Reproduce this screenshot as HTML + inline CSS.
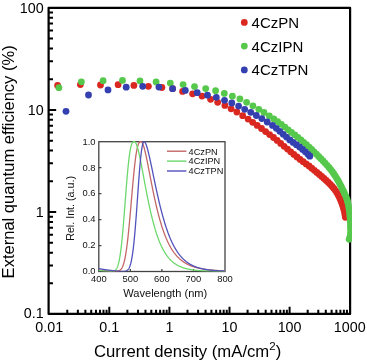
<!DOCTYPE html>
<html><head><meta charset="utf-8"><title>EQE vs current density</title>
<style>html,body{margin:0;padding:0;background:#fff;width:367px;height:360px;overflow:hidden}svg{display:block}</style>
</head><body>
<svg width="367" height="360" viewBox="0 0 367 360">
<defs><clipPath id="pc"><rect x="0" y="0" width="351.8" height="360"/></clipPath><clipPath id="ic"><rect x="98.8" y="140.7" width="126.2" height="130.8"/></clipPath></defs>
<style>
text{font-family:"Liberation Sans",Arial,Helvetica,sans-serif;fill:#000}
.tl{font-size:14.3px}
.al{font-size:16.7px}
.lg{font-size:15px}
.il{font-size:9.4px;fill:#111}
.ia{font-size:11.1px;fill:#111}
.ig{font-size:9.2px;fill:#111}
</style>
<rect width="367" height="360" fill="#fff"/>
<path d="M48.6,313.9 L48.6,7.8 L350.1,7.8 L350.1,313.9 Z" fill="none" stroke="#000" stroke-width="2.2" stroke-linejoin="round"/><path d="M48.6,283.36h4.4 M48.6,265.39h4.4 M48.6,252.63h4.4 M48.6,242.74h4.4 M48.6,234.65h4.4 M48.6,227.82h4.4 M48.6,221.89h4.4 M48.6,216.67h4.4 M48.6,212.00h7.6 M48.6,181.26h4.4 M48.6,163.29h4.4 M48.6,150.53h4.4 M48.6,140.64h4.4 M48.6,132.55h4.4 M48.6,125.72h4.4 M48.6,119.79h4.4 M48.6,114.57h4.4 M48.6,109.90h7.6 M48.6,79.16h4.4 M48.6,61.19h4.4 M48.6,48.43h4.4 M48.6,38.54h4.4 M48.6,30.45h4.4 M48.6,23.62h4.4 M48.6,17.69h4.4 M48.6,12.47h4.4 M67.29,313.9v-4.2 M77.87,313.9v-4.2 M85.38,313.9v-4.2 M91.21,313.9v-4.2 M95.97,313.9v-4.2 M99.99,313.9v-4.2 M103.48,313.9v-4.2 M106.55,313.9v-4.2 M109.30,313.9v-7.2 M127.39,313.9v-4.2 M137.97,313.9v-4.2 M145.48,313.9v-4.2 M151.31,313.9v-4.2 M156.07,313.9v-4.2 M160.09,313.9v-4.2 M163.58,313.9v-4.2 M166.65,313.9v-4.2 M169.40,313.9v-7.2 M187.49,313.9v-4.2 M198.07,313.9v-4.2 M205.58,313.9v-4.2 M211.41,313.9v-4.2 M216.17,313.9v-4.2 M220.19,313.9v-4.2 M223.68,313.9v-4.2 M226.75,313.9v-4.2 M229.50,313.9v-7.2 M247.59,313.9v-4.2 M258.17,313.9v-4.2 M265.68,313.9v-4.2 M271.51,313.9v-4.2 M276.27,313.9v-4.2 M280.29,313.9v-4.2 M283.78,313.9v-4.2 M286.85,313.9v-4.2 M289.60,313.9v-7.2 M307.69,313.9v-4.2 M318.27,313.9v-4.2 M325.78,313.9v-4.2 M331.61,313.9v-4.2 M336.37,313.9v-4.2 M340.39,313.9v-4.2 M343.88,313.9v-4.2 M346.95,313.9v-4.2" stroke="#000" stroke-width="2" fill="none"/><text x="43.6" y="12.8" text-anchor="end" class="tl">100</text><text x="43.6" y="114.9" text-anchor="end" class="tl">10</text><text x="43.6" y="217.0" text-anchor="end" class="tl">1</text><text x="43.6" y="318.1" text-anchor="end" class="tl">0.1</text><text x="49.2" y="332.2" text-anchor="middle" class="tl">0.01</text><text x="109.3" y="332.2" text-anchor="middle" class="tl">0.1</text><text x="169.4" y="332.2" text-anchor="middle" class="tl">1</text><text x="229.5" y="332.2" text-anchor="middle" class="tl">10</text><text x="289.6" y="332.2" text-anchor="middle" class="tl">100</text><text x="349.7" y="332.2" text-anchor="middle" class="tl">1000</text><text x="94" y="356.5" class="al">Current density (mA/cm<tspan dy="-6.5" font-size="11.5">2</tspan><tspan dy="6.5">)</tspan></text><text transform="translate(14.1,278.4) rotate(-90)" class="al" style="font-size:16.55px">External quantum efficiency (%)</text><g clip-path="url(#pc)"><circle cx="57.6" cy="85.5" r="3.4" fill="#da2820"/><circle cx="80.4" cy="84.6" r="3.4" fill="#da2820"/><circle cx="100.5" cy="85.0" r="3.4" fill="#da2820"/><circle cx="118.1" cy="84.7" r="3.4" fill="#da2820"/><circle cx="133.9" cy="85.4" r="3.4" fill="#da2820"/><circle cx="148.4" cy="86.3" r="3.4" fill="#da2820"/><circle cx="161.9" cy="87.5" r="3.4" fill="#da2820"/><circle cx="172.6" cy="88.7" r="3.4" fill="#da2820"/><circle cx="182.6" cy="91.4" r="3.4" fill="#da2820"/><circle cx="192.6" cy="93.8" r="3.4" fill="#da2820"/><circle cx="202.0" cy="96.1" r="3.4" fill="#da2820"/><circle cx="210.6" cy="99.3" r="3.4" fill="#da2820"/><circle cx="217.7" cy="102.3" r="3.4" fill="#da2820"/><circle cx="224.9" cy="105.4" r="3.4" fill="#da2820"/><circle cx="231.1" cy="108.8" r="3.4" fill="#da2820"/><circle cx="236.8" cy="112.0" r="3.4" fill="#da2820"/><circle cx="242.7" cy="115.7" r="3.4" fill="#da2820"/><circle cx="248.1" cy="119.1" r="3.4" fill="#da2820"/><circle cx="252.7" cy="122.3" r="3.4" fill="#da2820"/><circle cx="257.2" cy="125.4" r="3.4" fill="#da2820"/><circle cx="261.5" cy="128.5" r="3.4" fill="#da2820"/><circle cx="265.6" cy="131.6" r="3.4" fill="#da2820"/><circle cx="269.6" cy="134.6" r="3.4" fill="#da2820"/><circle cx="273.5" cy="137.5" r="3.4" fill="#da2820"/><circle cx="277.2" cy="140.4" r="3.4" fill="#da2820"/><circle cx="280.7" cy="143.4" r="3.4" fill="#da2820"/><circle cx="284.1" cy="146.3" r="3.4" fill="#da2820"/><circle cx="287.5" cy="149.1" r="3.4" fill="#da2820"/><circle cx="290.7" cy="151.8" r="3.4" fill="#da2820"/><circle cx="293.9" cy="154.4" r="3.4" fill="#da2820"/><circle cx="297.0" cy="157.0" r="3.4" fill="#da2820"/><circle cx="300.1" cy="159.4" r="3.4" fill="#da2820"/><circle cx="303.1" cy="161.7" r="3.4" fill="#da2820"/><circle cx="306.1" cy="163.9" r="3.4" fill="#da2820"/><circle cx="309.0" cy="166.0" r="3.4" fill="#da2820"/><circle cx="311.7" cy="168.2" r="3.4" fill="#da2820"/><circle cx="314.3" cy="170.3" r="3.4" fill="#da2820"/><circle cx="316.9" cy="172.4" r="3.4" fill="#da2820"/><circle cx="319.3" cy="174.5" r="3.4" fill="#da2820"/><circle cx="321.7" cy="176.5" r="3.4" fill="#da2820"/><circle cx="324.0" cy="178.5" r="3.4" fill="#da2820"/><circle cx="326.2" cy="180.5" r="3.4" fill="#da2820"/><circle cx="328.3" cy="182.5" r="3.4" fill="#da2820"/><circle cx="330.3" cy="184.5" r="3.4" fill="#da2820"/><circle cx="332.2" cy="186.5" r="3.4" fill="#da2820"/><circle cx="333.9" cy="188.5" r="3.4" fill="#da2820"/><circle cx="335.5" cy="190.6" r="3.4" fill="#da2820"/><circle cx="336.9" cy="192.7" r="3.4" fill="#da2820"/><circle cx="338.2" cy="194.9" r="3.4" fill="#da2820"/><circle cx="339.3" cy="197.1" r="3.4" fill="#da2820"/><circle cx="340.3" cy="199.3" r="3.4" fill="#da2820"/><circle cx="341.2" cy="201.5" r="3.4" fill="#da2820"/><circle cx="342.1" cy="203.8" r="3.4" fill="#da2820"/><circle cx="342.8" cy="206.0" r="3.4" fill="#da2820"/><circle cx="343.5" cy="208.3" r="3.4" fill="#da2820"/><circle cx="344.2" cy="210.6" r="3.4" fill="#da2820"/><circle cx="344.7" cy="213.0" r="3.4" fill="#da2820"/><circle cx="345.1" cy="215.3" r="3.4" fill="#da2820"/><circle cx="345.4" cy="217.3" r="3.4" fill="#da2820"/><circle cx="58.9" cy="87.7" r="3.4" fill="#56c84c"/><circle cx="81.4" cy="81.8" r="3.4" fill="#56c84c"/><circle cx="103.1" cy="80.7" r="3.4" fill="#56c84c"/><circle cx="122.5" cy="80.4" r="3.4" fill="#56c84c"/><circle cx="140.0" cy="80.9" r="3.4" fill="#56c84c"/><circle cx="156.1" cy="82.0" r="3.4" fill="#56c84c"/><circle cx="170.3" cy="83.1" r="3.4" fill="#56c84c"/><circle cx="183.1" cy="84.6" r="3.4" fill="#56c84c"/><circle cx="194.5" cy="86.6" r="3.4" fill="#56c84c"/><circle cx="205.7" cy="88.6" r="3.4" fill="#56c84c"/><circle cx="215.6" cy="90.7" r="3.4" fill="#56c84c"/><circle cx="224.3" cy="93.4" r="3.4" fill="#56c84c"/><circle cx="232.4" cy="96.2" r="3.4" fill="#56c84c"/><circle cx="239.9" cy="98.9" r="3.4" fill="#56c84c"/><circle cx="246.6" cy="102.3" r="3.4" fill="#56c84c"/><circle cx="252.9" cy="105.8" r="3.4" fill="#56c84c"/><circle cx="258.8" cy="109.3" r="3.4" fill="#56c84c"/><circle cx="264.0" cy="112.5" r="3.4" fill="#56c84c"/><circle cx="269.3" cy="115.9" r="3.4" fill="#56c84c"/><circle cx="273.8" cy="118.9" r="3.4" fill="#56c84c"/><circle cx="277.7" cy="121.6" r="3.4" fill="#56c84c"/><circle cx="281.4" cy="124.3" r="3.4" fill="#56c84c"/><circle cx="284.9" cy="127.1" r="3.4" fill="#56c84c"/><circle cx="288.2" cy="129.8" r="3.4" fill="#56c84c"/><circle cx="291.5" cy="132.4" r="3.4" fill="#56c84c"/><circle cx="294.8" cy="134.9" r="3.4" fill="#56c84c"/><circle cx="297.9" cy="137.4" r="3.4" fill="#56c84c"/><circle cx="300.9" cy="139.8" r="3.4" fill="#56c84c"/><circle cx="303.7" cy="142.3" r="3.4" fill="#56c84c"/><circle cx="306.5" cy="144.7" r="3.4" fill="#56c84c"/><circle cx="309.1" cy="147.1" r="3.4" fill="#56c84c"/><circle cx="311.7" cy="149.5" r="3.4" fill="#56c84c"/><circle cx="314.1" cy="151.9" r="3.4" fill="#56c84c"/><circle cx="316.5" cy="154.2" r="3.4" fill="#56c84c"/><circle cx="318.7" cy="156.5" r="3.4" fill="#56c84c"/><circle cx="320.9" cy="158.7" r="3.4" fill="#56c84c"/><circle cx="323.1" cy="160.9" r="3.4" fill="#56c84c"/><circle cx="325.1" cy="163.1" r="3.4" fill="#56c84c"/><circle cx="327.1" cy="165.3" r="3.4" fill="#56c84c"/><circle cx="329.0" cy="167.4" r="3.4" fill="#56c84c"/><circle cx="330.7" cy="169.6" r="3.4" fill="#56c84c"/><circle cx="332.4" cy="171.7" r="3.4" fill="#56c84c"/><circle cx="333.9" cy="173.9" r="3.4" fill="#56c84c"/><circle cx="335.4" cy="176.1" r="3.4" fill="#56c84c"/><circle cx="336.7" cy="178.3" r="3.4" fill="#56c84c"/><circle cx="338.0" cy="180.5" r="3.4" fill="#56c84c"/><circle cx="339.2" cy="182.6" r="3.4" fill="#56c84c"/><circle cx="340.3" cy="184.8" r="3.4" fill="#56c84c"/><circle cx="341.4" cy="186.9" r="3.4" fill="#56c84c"/><circle cx="342.4" cy="189.1" r="3.4" fill="#56c84c"/><circle cx="343.5" cy="191.2" r="3.4" fill="#56c84c"/><circle cx="344.5" cy="193.4" r="3.4" fill="#56c84c"/><circle cx="345.5" cy="195.6" r="3.4" fill="#56c84c"/><circle cx="346.4" cy="197.8" r="3.4" fill="#56c84c"/><circle cx="347.2" cy="200.1" r="3.4" fill="#56c84c"/><circle cx="347.8" cy="202.4" r="3.4" fill="#56c84c"/><circle cx="348.4" cy="204.8" r="3.4" fill="#56c84c"/><circle cx="348.8" cy="207.1" r="3.4" fill="#56c84c"/><circle cx="349.2" cy="209.5" r="3.4" fill="#56c84c"/><circle cx="349.6" cy="211.9" r="3.4" fill="#56c84c"/><circle cx="349.8" cy="214.3" r="3.4" fill="#56c84c"/><circle cx="350.0" cy="216.6" r="3.4" fill="#56c84c"/><circle cx="350.2" cy="219.0" r="3.4" fill="#56c84c"/><circle cx="350.3" cy="221.4" r="3.4" fill="#56c84c"/><circle cx="350.5" cy="223.8" r="3.4" fill="#56c84c"/><circle cx="350.5" cy="226.2" r="3.4" fill="#56c84c"/><circle cx="350.6" cy="228.6" r="3.4" fill="#56c84c"/><circle cx="350.7" cy="231.0" r="3.4" fill="#56c84c"/><circle cx="350.6" cy="233.4" r="3.4" fill="#56c84c"/><circle cx="350.3" cy="235.8" r="3.4" fill="#56c84c"/><circle cx="349.7" cy="238.1" r="3.4" fill="#56c84c"/><circle cx="349.2" cy="239.3" r="3.4" fill="#56c84c"/><circle cx="66.0" cy="111.3" r="3.4" fill="#3440b0"/><circle cx="88.5" cy="95.0" r="3.4" fill="#3440b0"/><circle cx="108.0" cy="89.9" r="3.4" fill="#3440b0"/><circle cx="126.2" cy="87.2" r="3.4" fill="#3440b0"/><circle cx="142.7" cy="86.3" r="3.4" fill="#3440b0"/><circle cx="158.9" cy="87.1" r="3.4" fill="#3440b0"/><circle cx="172.6" cy="88.7" r="3.4" fill="#3440b0"/><circle cx="185.3" cy="90.4" r="3.4" fill="#3440b0"/><circle cx="197.2" cy="92.7" r="3.4" fill="#3440b0"/><circle cx="207.5" cy="95.2" r="3.4" fill="#3440b0"/><circle cx="216.3" cy="97.3" r="3.4" fill="#3440b0"/><circle cx="224.5" cy="100.3" r="3.4" fill="#3440b0"/><circle cx="231.8" cy="103.0" r="3.4" fill="#3440b0"/><circle cx="238.6" cy="106.1" r="3.4" fill="#3440b0"/><circle cx="244.7" cy="109.3" r="3.4" fill="#3440b0"/><circle cx="250.8" cy="112.3" r="3.4" fill="#3440b0"/><circle cx="256.3" cy="115.5" r="3.4" fill="#3440b0"/><circle cx="261.8" cy="118.6" r="3.4" fill="#3440b0"/><circle cx="267.2" cy="122.0" r="3.4" fill="#3440b0"/><circle cx="272.5" cy="125.4" r="3.4" fill="#3440b0"/><circle cx="276.3" cy="128.3" r="3.4" fill="#3440b0"/><circle cx="279.8" cy="131.3" r="3.4" fill="#3440b0"/><circle cx="283.2" cy="134.3" r="3.4" fill="#3440b0"/><circle cx="286.5" cy="137.1" r="3.4" fill="#3440b0"/><circle cx="289.8" cy="139.9" r="3.4" fill="#3440b0"/><circle cx="293.1" cy="142.4" r="3.4" fill="#3440b0"/><circle cx="296.4" cy="144.7" r="3.4" fill="#3440b0"/><circle cx="299.6" cy="147.0" r="3.4" fill="#3440b0"/><circle cx="302.6" cy="149.4" r="3.4" fill="#3440b0"/><circle cx="305.4" cy="151.8" r="3.4" fill="#3440b0"/><circle cx="308.0" cy="154.3" r="3.4" fill="#3440b0"/><circle cx="309.8" cy="156.2" r="3.4" fill="#3440b0"/></g><circle cx="244.3" cy="22.4" r="3.4" fill="#da2820"/><text x="251.6" y="28.0" class="lg">4CzPN</text><circle cx="244.3" cy="46.1" r="3.4" fill="#56c84c"/><text x="251.6" y="51.5" class="lg">4CzIPN</text><circle cx="244.3" cy="69.9" r="3.4" fill="#3440b0"/><text x="251.6" y="75.0" class="lg">4CzTPN</text><rect x="98.8" y="141.7" width="126.2" height="129.8" fill="#fff" stroke="#444" stroke-width="1.3"/><path d="M98.8,245.54h2.6 M98.8,219.58h2.6 M98.8,193.62h2.6 M98.8,167.66h2.6 M130.35,271.5v-2.6 M161.90,271.5v-2.6 M193.45,271.5v-2.6" stroke="#444" stroke-width="1.3" fill="none"/><text x="95.6" y="274.3" text-anchor="end" class="il">0.0</text><text x="95.6" y="248.3" text-anchor="end" class="il">0.2</text><text x="95.6" y="222.4" text-anchor="end" class="il">0.4</text><text x="95.6" y="196.4" text-anchor="end" class="il">0.6</text><text x="95.6" y="170.5" text-anchor="end" class="il">0.8</text><text x="95.6" y="144.5" text-anchor="end" class="il">1.0</text><text x="98.8" y="281.9" text-anchor="middle" class="il">400</text><text x="130.3" y="281.9" text-anchor="middle" class="il">500</text><text x="161.9" y="281.9" text-anchor="middle" class="il">600</text><text x="193.4" y="281.9" text-anchor="middle" class="il">700</text><text x="225.0" y="281.9" text-anchor="middle" class="il">800</text><text x="123.2" y="296.9" class="ia">Wavelength (nm)</text><text transform="translate(74.2,240.8) rotate(-90)" class="ia" style="font-size:10.7px">Rel. Int. (a.u.)</text><g clip-path="url(#ic)"><polyline points="98.80,270.20 98.96,270.22 99.12,270.23 99.27,270.24 99.43,270.26 99.59,270.27 99.75,270.28 99.90,270.30 100.06,270.31 100.22,270.33 100.38,270.34 100.54,270.35 100.69,270.37 100.85,270.38 101.01,270.39 101.17,270.40 101.32,270.42 101.48,270.43 101.64,270.44 101.80,270.46 101.95,270.47 102.11,270.48 102.27,270.50 102.43,270.51 102.59,270.52 102.74,270.53 102.90,270.55 103.06,270.56 103.22,270.57 103.37,270.58 103.53,270.60 103.69,270.61 103.85,270.62 104.01,270.63 104.16,270.64 104.32,270.66 104.48,270.67 104.64,270.68 104.79,270.69 104.95,270.70 105.11,270.72 105.27,270.73 105.43,270.74 105.58,270.75 105.74,270.76 105.90,270.77 106.06,270.79 106.21,270.80 106.37,270.81 106.53,270.82 106.69,270.83 106.85,270.84 107.00,270.85 107.16,270.86 107.32,270.88 107.48,270.89 107.63,270.90 107.79,270.91 107.95,270.92 108.11,270.93 108.27,270.94 108.42,270.95 108.58,270.96 108.74,270.97 108.90,270.98 109.05,270.99 109.21,271.00 109.37,271.01 109.53,271.02 109.68,271.03 109.84,271.04 110.00,271.05 110.16,271.06 110.32,271.07 110.47,271.08 110.63,271.09 110.79,271.10 110.95,271.11 111.10,271.12 111.26,271.13 111.42,271.13 111.58,271.14 111.74,271.15 111.89,271.16 112.05,271.17 112.21,271.18 112.37,271.18 112.52,271.19 112.68,271.20 112.84,271.21 113.00,271.21 113.16,271.22 113.31,271.23 113.47,271.24 113.63,271.24 113.79,271.25 113.94,271.25 114.10,271.26 114.26,271.26 114.42,271.27 114.58,271.27 114.73,271.27 114.89,271.28 115.05,271.28 115.21,271.28 115.36,271.28 115.52,271.28 115.68,271.28 115.84,271.27 115.99,271.27 116.15,271.27 116.31,271.26 116.47,271.25 116.63,271.24 116.78,271.23 116.94,271.21 117.10,271.20 117.26,271.18 117.41,271.16 117.57,271.14 117.73,271.11 117.89,271.08 118.05,271.04 118.20,271.01 118.36,270.97 118.52,270.92 118.68,270.87 118.83,270.81 118.99,270.75 119.15,270.68 119.31,270.61 119.47,270.52 119.62,270.44 119.78,270.34 119.94,270.23 120.10,270.12 120.25,269.99 120.41,269.86 120.57,269.71 120.73,269.56 120.88,269.39 121.04,269.20 121.20,269.01 121.36,268.80 121.52,268.57 121.67,268.33 121.83,268.08 121.99,267.80 122.15,267.51 122.30,267.20 122.46,266.87 122.62,266.52 122.78,266.15 122.94,265.76 123.09,265.34 123.25,264.90 123.41,264.43 123.57,263.94 123.72,263.43 123.88,262.88 124.04,262.31 124.20,261.71 124.36,261.08 124.51,260.42 124.67,259.72 124.83,259.00 124.99,258.24 125.14,257.45 125.30,256.63 125.46,255.77 125.62,254.88 125.78,253.96 125.93,252.99 126.09,252.00 126.25,250.96 126.41,249.89 126.56,248.79 126.72,247.65 126.88,246.47 127.04,245.26 127.19,244.01 127.35,242.72 127.51,241.40 127.67,240.05 127.83,238.66 127.98,237.24 128.14,235.78 128.30,234.29 128.46,232.78 128.61,231.23 128.77,229.65 128.93,228.04 129.09,226.41 129.25,224.76 129.40,223.07 129.56,221.37 129.72,219.64 129.88,217.90 130.03,216.14 130.19,214.36 130.35,212.57 130.51,210.76 130.67,208.94 130.82,207.12 130.98,205.29 131.14,203.45 131.30,201.61 131.45,199.77 131.61,197.93 131.77,196.10 131.93,194.27 132.09,192.45 132.24,190.63 132.40,188.83 132.56,187.04 132.72,185.27 132.87,183.52 133.03,181.78 133.19,180.07 133.35,178.38 133.50,176.72 133.66,175.08 133.82,173.47 133.98,171.89 134.14,170.35 134.29,168.83 134.45,167.35 134.61,165.91 134.77,164.51 134.92,163.14 135.08,161.82 135.24,160.53 135.40,159.29 135.56,158.08 135.71,156.93 135.87,155.81 136.03,154.74 136.19,153.72 136.34,152.73 136.50,151.80 136.66,150.91 136.82,150.07 136.98,149.27 137.13,148.51 137.29,147.80 137.45,147.14 137.61,146.52 137.76,145.94 137.92,145.40 138.08,144.91 138.24,144.46 138.40,144.05 138.55,143.68 138.71,143.34 138.87,143.04 139.03,142.78 139.18,142.55 139.34,142.35 139.50,142.19 139.66,142.05 139.81,141.94 139.97,141.85 140.13,141.79 140.29,141.74 140.45,141.72 140.60,141.70 140.76,141.70 140.92,141.70 141.08,141.72 141.23,141.76 141.39,141.84 141.55,141.95 141.71,142.09 141.87,142.26 142.02,142.47 142.18,142.71 142.34,142.98 142.50,143.28 142.65,143.61 142.81,143.96 142.97,144.35 143.13,144.76 143.29,145.19 143.44,145.65 143.60,146.13 143.76,146.63 143.92,147.15 144.07,147.69 144.23,148.25 144.39,148.83 144.55,149.43 144.71,150.04 144.86,150.67 145.02,151.31 145.18,151.97 145.34,152.63 145.49,153.32 145.65,154.01 145.81,154.71 145.97,155.43 146.12,156.15 146.28,156.89 146.44,157.63 146.60,158.38 146.76,159.14 146.91,159.90 147.07,160.67 147.23,161.45 147.39,162.23 147.54,163.02 147.70,163.81 147.86,164.61 148.02,165.41 148.18,166.21 148.33,167.01 148.49,167.82 148.65,168.63 148.81,169.45 148.96,170.26 149.12,171.07 149.28,171.89 149.44,172.71 149.60,173.52 149.75,174.34 149.91,175.16 150.07,175.97 150.23,176.79 150.38,177.60 150.54,178.42 150.70,179.23 150.86,180.04 151.02,180.85 151.17,181.65 151.33,182.46 151.49,183.26 151.65,184.06 151.80,184.85 151.96,185.65 152.12,186.44 152.28,187.23 152.44,188.01 152.59,188.79 152.75,189.57 152.91,190.34 153.07,191.11 153.22,191.88 153.38,192.64 153.54,193.40 153.70,194.15 153.85,194.90 154.01,195.64 154.17,196.38 154.33,197.12 154.49,197.85 154.64,198.58 154.80,199.30 154.96,200.02 155.12,200.73 155.27,201.44 155.43,202.14 155.59,202.84 155.75,203.54 155.91,204.22 156.06,204.91 156.22,205.59 156.38,206.26 156.54,206.93 156.69,207.59 156.85,208.25 157.01,208.90 157.17,209.55 157.33,210.19 157.48,210.83 157.64,211.46 157.80,212.09 157.96,212.71 158.11,213.33 158.27,213.94 158.43,214.54 158.59,215.14 158.75,215.74 158.90,216.33 159.06,216.92 159.22,217.50 159.38,218.07 159.53,218.64 159.69,219.21 159.85,219.77 160.01,220.32 160.16,220.87 160.32,221.41 160.48,221.95 160.64,222.49 160.80,223.02 160.95,223.54 161.11,224.06 161.27,224.57 161.43,225.08 161.58,225.59 161.74,226.09 161.90,226.58 162.06,227.07 162.22,227.56 162.37,228.04 162.53,228.52 162.69,228.99 162.85,229.45 163.00,229.91 163.16,230.37 163.32,230.82 163.48,231.27 163.64,231.72 163.79,232.15 163.95,232.59 164.11,233.02 164.27,233.44 164.42,233.87 164.58,234.28 164.74,234.70 164.90,235.10 165.06,235.51 165.21,235.91 165.37,236.30 165.53,236.69 165.69,237.08 165.84,237.47 166.00,237.85 166.16,238.22 166.32,238.59 166.47,238.96 166.63,239.32 166.79,239.68 166.95,240.04 167.11,240.39 167.26,240.74 167.42,241.08 167.58,241.42 167.74,241.76 167.89,242.09 168.05,242.42 168.21,242.75 168.37,243.07 168.53,243.39 168.68,243.71 168.84,244.02 169.00,244.33 169.16,244.63 169.31,244.94 169.47,245.23 169.63,245.53 169.79,245.82 169.95,246.11 170.10,246.40 170.26,246.68 170.42,246.96 170.58,247.24 170.73,247.51 170.89,247.78 171.05,248.05 171.21,248.31 171.37,248.57 171.52,248.83 171.68,249.09 171.84,249.34 172.00,249.59 172.15,249.84 172.31,250.08 172.47,250.32 172.63,250.56 172.78,250.80 172.94,251.03 173.10,251.26 173.26,251.49 173.42,251.72 173.57,251.94 173.73,252.16 173.89,252.38 174.05,252.59 174.20,252.81 174.36,253.02 174.52,253.23 174.68,253.43 174.84,253.64 174.99,253.84 175.15,254.04 175.31,254.23 175.47,254.43 175.62,254.62 175.78,254.81 175.94,255.00 176.10,255.18 176.26,255.37 176.41,255.55 176.57,255.73 176.73,255.91 176.89,256.08 177.04,256.26 177.20,256.43 177.36,256.60 177.52,256.77 177.68,256.93 177.83,257.09 177.99,257.26 178.15,257.42 178.31,257.58 178.46,257.73 178.62,257.89 178.78,258.04 178.94,258.19 179.09,258.34 179.25,258.49 179.41,258.63 179.57,258.78 179.73,258.92 179.88,259.06 180.04,259.20 180.20,259.34 180.36,259.47 180.51,259.61 180.67,259.74 180.83,259.87 180.99,260.00 181.15,260.13 181.30,260.26 181.46,260.39 181.62,260.51 181.78,260.63 181.93,260.75 182.09,260.87 182.25,260.99 182.41,261.11 182.57,261.23 182.72,261.34 182.88,261.45 183.04,261.56 183.20,261.68 183.35,261.78 183.51,261.89 183.67,262.00 183.83,262.11 183.99,262.21 184.14,262.31 184.30,262.41 184.46,262.52 184.62,262.62 184.77,262.71 184.93,262.81 185.09,262.91 185.25,263.00 185.40,263.10 185.56,263.19 185.72,263.28 185.88,263.37 186.04,263.46 186.19,263.55 186.35,263.64 186.51,263.73 186.67,263.81 186.82,263.90 186.98,263.98 187.14,264.06 187.30,264.15 187.46,264.23 187.61,264.31 187.77,264.39 187.93,264.46 188.09,264.54 188.24,264.62 188.40,264.69 188.56,264.77 188.72,264.84 188.88,264.91 189.03,264.99 189.19,265.06 189.35,265.13 189.51,265.20 189.66,265.27 189.82,265.33 189.98,265.40 190.14,265.47 190.30,265.53 190.45,265.60 190.61,265.66 190.77,265.73 190.93,265.79 191.08,265.85 191.24,265.91 191.40,265.97 191.56,266.03 191.71,266.09 191.87,266.15 192.03,266.21 192.19,266.27 192.35,266.33 192.50,266.38 192.66,266.44 192.82,266.49 192.98,266.55 193.13,266.60 193.29,266.65 193.45,266.70 193.61,266.76 193.77,266.81 193.92,266.86 194.08,266.91 194.24,266.96 194.40,267.01 194.55,267.05 194.71,267.10 194.87,267.15 195.03,267.20 195.19,267.24 195.34,267.29 195.50,267.33 195.66,267.38 195.82,267.42 195.97,267.47 196.13,267.51 196.29,267.55 196.45,267.59 196.61,267.64 196.76,267.68 196.92,267.72 197.08,267.76 197.24,267.80 197.39,267.84 197.55,267.88 197.71,267.91 197.87,267.95 198.02,267.99 198.18,268.03 198.34,268.06 198.50,268.10 198.66,268.14 198.81,268.17 198.97,268.21 199.13,268.24 199.29,268.28 199.44,268.31 199.60,268.34 199.76,268.38 199.92,268.41 200.08,268.44 200.23,268.48 200.39,268.51 200.55,268.54 200.71,268.57 200.86,268.60 201.02,268.63 201.18,268.66 201.34,268.69 201.50,268.72 201.65,268.75 201.81,268.78 201.97,268.81 202.13,268.84 202.28,268.86 202.44,268.89 202.60,268.92 202.76,268.94 202.91,268.97 203.07,269.00 203.23,269.02 203.39,269.05 203.55,269.07 203.70,269.10 203.86,269.12 204.02,269.15 204.18,269.17 204.33,269.20 204.49,269.22 204.65,269.25 204.81,269.27 204.97,269.29 205.12,269.31 205.28,269.34 205.44,269.36 205.60,269.38 205.75,269.40 205.91,269.42 206.07,269.45 206.23,269.47 206.39,269.49 206.54,269.51 206.70,269.53 206.86,269.55 207.02,269.57 207.17,269.59 207.33,269.61 207.49,269.63 207.65,269.65 207.81,269.67 207.96,269.69 208.12,269.70 208.28,269.72 208.44,269.74 208.59,269.76 208.75,269.78 208.91,269.79 209.07,269.81 209.22,269.83 209.38,269.84 209.54,269.86 209.70,269.88 209.86,269.89 210.01,269.91 210.17,269.93 210.33,269.94 210.49,269.96 210.64,269.97 210.80,269.99 210.96,270.00 211.12,270.02 211.28,270.03 211.43,270.05 211.59,270.06 211.75,270.08 211.91,270.09 212.06,270.11 212.22,270.12 212.38,270.13 212.54,270.15 212.70,270.16 212.85,270.18 213.01,270.19 213.17,270.20 213.33,270.21 213.48,270.23 213.64,270.24 213.80,270.25 213.96,270.26 214.12,270.28 214.27,270.29 214.43,270.30 214.59,270.31 214.75,270.32 214.90,270.34 215.06,270.35 215.22,270.36 215.38,270.37 215.53,270.38 215.69,270.39 215.85,270.40 216.01,270.41 216.17,270.43 216.32,270.44 216.48,270.45 216.64,270.46 216.80,270.47 216.95,270.48 217.11,270.49 217.27,270.50 217.43,270.51 217.59,270.52 217.74,270.53 217.90,270.54 218.06,270.55 218.22,270.55 218.37,270.56 218.53,270.57 218.69,270.58 218.85,270.59 219.01,270.60 219.16,270.61 219.32,270.62 219.48,270.63 219.64,270.63 219.79,270.64 219.95,270.65 220.11,270.66 220.27,270.67 220.43,270.68 220.58,270.68 220.74,270.69 220.90,270.70 221.06,270.71 221.21,270.71 221.37,270.72 221.53,270.73 221.69,270.74 221.84,270.74 222.00,270.75 222.16,270.76 222.32,270.77 222.48,270.77 222.63,270.78 222.79,270.79 222.95,270.79 223.11,270.80 223.26,270.81 223.42,270.81 223.58,270.82 223.74,270.83 223.90,270.83 224.05,270.84 224.21,270.85 224.37,270.85 224.53,270.86 224.68,270.86 224.84,270.87 225.00,270.88" fill="none" stroke="#c46666" stroke-width="1.3" stroke-linejoin="round"/><polyline points="98.80,270.59 98.96,270.60 99.12,270.61 99.27,270.63 99.43,270.64 99.59,270.65 99.75,270.66 99.90,270.67 100.06,270.68 100.22,270.69 100.38,270.70 100.54,270.71 100.69,270.72 100.85,270.73 101.01,270.75 101.17,270.76 101.32,270.77 101.48,270.78 101.64,270.79 101.80,270.80 101.95,270.81 102.11,270.82 102.27,270.83 102.43,270.84 102.59,270.85 102.74,270.86 102.90,270.87 103.06,270.88 103.22,270.89 103.37,270.90 103.53,270.91 103.69,270.92 103.85,270.93 104.01,270.94 104.16,270.95 104.32,270.96 104.48,270.97 104.64,270.98 104.79,270.99 104.95,271.00 105.11,271.01 105.27,271.01 105.43,271.02 105.58,271.03 105.74,271.04 105.90,271.05 106.06,271.06 106.21,271.07 106.37,271.08 106.53,271.09 106.69,271.09 106.85,271.10 107.00,271.11 107.16,271.12 107.32,271.13 107.48,271.14 107.63,271.14 107.79,271.15 107.95,271.16 108.11,271.17 108.27,271.18 108.42,271.18 108.58,271.19 108.74,271.20 108.90,271.21 109.05,271.21 109.21,271.22 109.37,271.23 109.53,271.23 109.68,271.24 109.84,271.24 110.00,271.25 110.16,271.25 110.32,271.26 110.47,271.26 110.63,271.26 110.79,271.26 110.95,271.27 111.10,271.27 111.26,271.27 111.42,271.26 111.58,271.26 111.74,271.26 111.89,271.25 112.05,271.24 112.21,271.23 112.37,271.22 112.52,271.21 112.68,271.19 112.84,271.17 113.00,271.15 113.16,271.12 113.31,271.09 113.47,271.06 113.63,271.02 113.79,270.98 113.94,270.93 114.10,270.87 114.26,270.81 114.42,270.74 114.58,270.66 114.73,270.57 114.89,270.48 115.05,270.37 115.21,270.26 115.36,270.13 115.52,269.99 115.68,269.83 115.84,269.66 115.99,269.48 116.15,269.28 116.31,269.06 116.47,268.83 116.63,268.57 116.78,268.29 116.94,267.99 117.10,267.67 117.26,267.32 117.41,266.95 117.57,266.55 117.73,266.12 117.89,265.66 118.05,265.17 118.20,264.65 118.36,264.09 118.52,263.50 118.68,262.88 118.83,262.21 118.99,261.51 119.15,260.77 119.31,259.99 119.47,259.17 119.62,258.31 119.78,257.40 119.94,256.45 120.10,255.46 120.25,254.42 120.41,253.33 120.57,252.20 120.73,251.03 120.88,249.80 121.04,248.53 121.20,247.22 121.36,245.86 121.52,244.45 121.67,243.00 121.83,241.50 121.99,239.96 122.15,238.37 122.30,236.75 122.46,235.08 122.62,233.38 122.78,231.63 122.94,229.86 123.09,228.04 123.25,226.20 123.41,224.32 123.57,222.41 123.72,220.48 123.88,218.52 124.04,216.55 124.20,214.55 124.36,212.54 124.51,210.51 124.67,208.47 124.83,206.42 124.99,204.37 125.14,202.32 125.30,200.26 125.46,198.21 125.62,196.17 125.78,194.13 125.93,192.10 126.09,190.09 126.25,188.10 126.41,186.13 126.56,184.18 126.72,182.25 126.88,180.35 127.04,178.49 127.19,176.65 127.35,174.86 127.51,173.10 127.67,171.37 127.83,169.69 127.98,168.06 128.14,166.46 128.30,164.92 128.46,163.42 128.61,161.97 128.77,160.57 128.93,159.23 129.09,157.93 129.25,156.69 129.40,155.50 129.56,154.36 129.72,153.28 129.88,152.26 130.03,151.28 130.19,150.36 130.35,149.50 130.51,148.68 130.67,147.92 130.82,147.21 130.98,146.56 131.14,145.95 131.30,145.39 131.45,144.88 131.61,144.41 131.77,143.99 131.93,143.61 132.09,143.27 132.24,142.98 132.40,142.72 132.56,142.49 132.72,142.30 132.87,142.15 133.03,142.02 133.19,141.91 133.35,141.83 133.50,141.78 133.66,141.74 133.82,141.71 133.98,141.70 134.14,141.70 134.29,141.70 134.45,141.71 134.61,141.75 134.77,141.82 134.92,141.91 135.08,142.04 135.24,142.20 135.40,142.39 135.56,142.61 135.71,142.86 135.87,143.14 136.03,143.45 136.19,143.78 136.34,144.14 136.50,144.53 136.66,144.94 136.82,145.38 136.98,145.84 137.13,146.32 137.29,146.82 137.45,147.35 137.61,147.89 137.76,148.45 137.92,149.03 138.08,149.63 138.24,150.25 138.40,150.88 138.55,151.53 138.71,152.19 138.87,152.86 139.03,153.55 139.18,154.25 139.34,154.96 139.50,155.68 139.66,156.42 139.81,157.16 139.97,157.92 140.13,158.68 140.29,159.45 140.45,160.23 140.60,161.02 140.76,161.81 140.92,162.61 141.08,163.42 141.23,164.23 141.39,165.05 141.55,165.87 141.71,166.70 141.87,167.53 142.02,168.36 142.18,169.20 142.34,170.04 142.50,170.88 142.65,171.72 142.81,172.57 142.97,173.42 143.13,174.27 143.29,175.11 143.44,175.96 143.60,176.81 143.76,177.66 143.92,178.51 144.07,179.36 144.23,180.21 144.39,181.06 144.55,181.90 144.71,182.75 144.86,183.59 145.02,184.43 145.18,185.27 145.34,186.11 145.49,186.94 145.65,187.77 145.81,188.60 145.97,189.42 146.12,190.25 146.28,191.07 146.44,191.88 146.60,192.69 146.76,193.50 146.91,194.31 147.07,195.11 147.23,195.90 147.39,196.69 147.54,197.48 147.70,198.26 147.86,199.04 148.02,199.82 148.18,200.59 148.33,201.35 148.49,202.11 148.65,202.87 148.81,203.62 148.96,204.36 149.12,205.10 149.28,205.84 149.44,206.57 149.60,207.29 149.75,208.01 149.91,208.72 150.07,209.43 150.23,210.14 150.38,210.83 150.54,211.53 150.70,212.21 150.86,212.89 151.02,213.57 151.17,214.24 151.33,214.90 151.49,215.56 151.65,216.21 151.80,216.86 151.96,217.50 152.12,218.14 152.28,218.77 152.44,219.39 152.59,220.01 152.75,220.63 152.91,221.23 153.07,221.84 153.22,222.43 153.38,223.02 153.54,223.61 153.70,224.19 153.85,224.76 154.01,225.33 154.17,225.89 154.33,226.45 154.49,227.00 154.64,227.55 154.80,228.09 154.96,228.62 155.12,229.15 155.27,229.68 155.43,230.20 155.59,230.71 155.75,231.22 155.91,231.72 156.06,232.22 156.22,232.71 156.38,233.20 156.54,233.68 156.69,234.16 156.85,234.63 157.01,235.10 157.17,235.56 157.33,236.01 157.48,236.46 157.64,236.91 157.80,237.35 157.96,237.79 158.11,238.22 158.27,238.65 158.43,239.07 158.59,239.49 158.75,239.90 158.90,240.31 159.06,240.71 159.22,241.11 159.38,241.50 159.53,241.89 159.69,242.27 159.85,242.65 160.01,243.03 160.16,243.40 160.32,243.77 160.48,244.13 160.64,244.49 160.80,244.84 160.95,245.19 161.11,245.54 161.27,245.88 161.43,246.22 161.58,246.55 161.74,246.88 161.90,247.21 162.06,247.53 162.22,247.85 162.37,248.16 162.53,248.47 162.69,248.78 162.85,249.08 163.00,249.38 163.16,249.67 163.32,249.96 163.48,250.25 163.64,250.53 163.79,250.82 163.95,251.09 164.11,251.37 164.27,251.64 164.42,251.90 164.58,252.17 164.74,252.43 164.90,252.68 165.06,252.94 165.21,253.19 165.37,253.43 165.53,253.68 165.69,253.92 165.84,254.16 166.00,254.39 166.16,254.62 166.32,254.85 166.47,255.08 166.63,255.30 166.79,255.52 166.95,255.74 167.11,255.95 167.26,256.17 167.42,256.37 167.58,256.58 167.74,256.78 167.89,256.99 168.05,257.18 168.21,257.38 168.37,257.57 168.53,257.76 168.68,257.95 168.84,258.14 169.00,258.32 169.16,258.50 169.31,258.68 169.47,258.86 169.63,259.03 169.79,259.20 169.95,259.37 170.10,259.54 170.26,259.70 170.42,259.86 170.58,260.02 170.73,260.18 170.89,260.34 171.05,260.49 171.21,260.64 171.37,260.79 171.52,260.94 171.68,261.09 171.84,261.23 172.00,261.37 172.15,261.51 172.31,261.65 172.47,261.79 172.63,261.92 172.78,262.06 172.94,262.19 173.10,262.32 173.26,262.44 173.42,262.57 173.57,262.69 173.73,262.82 173.89,262.94 174.05,263.06 174.20,263.17 174.36,263.29 174.52,263.40 174.68,263.52 174.84,263.63 174.99,263.74 175.15,263.84 175.31,263.95 175.47,264.06 175.62,264.16 175.78,264.26 175.94,264.36 176.10,264.46 176.26,264.56 176.41,264.66 176.57,264.75 176.73,264.85 176.89,264.94 177.04,265.03 177.20,265.12 177.36,265.21 177.52,265.30 177.68,265.39 177.83,265.47 177.99,265.56 178.15,265.64 178.31,265.72 178.46,265.80 178.62,265.88 178.78,265.96 178.94,266.04 179.09,266.11 179.25,266.19 179.41,266.26 179.57,266.34 179.73,266.41 179.88,266.48 180.04,266.55 180.20,266.62 180.36,266.69 180.51,266.76 180.67,266.82 180.83,266.89 180.99,266.95 181.15,267.02 181.30,267.08 181.46,267.14 181.62,267.20 181.78,267.26 181.93,267.32 182.09,267.38 182.25,267.44 182.41,267.50 182.57,267.55 182.72,267.61 182.88,267.66 183.04,267.72 183.20,267.77 183.35,267.82 183.51,267.87 183.67,267.92 183.83,267.97 183.99,268.02 184.14,268.07 184.30,268.12 184.46,268.17 184.62,268.21 184.77,268.26 184.93,268.31 185.09,268.35 185.25,268.39 185.40,268.44 185.56,268.48 185.72,268.52 185.88,268.57 186.04,268.61 186.19,268.65 186.35,268.69 186.51,268.73 186.67,268.77 186.82,268.80 186.98,268.84 187.14,268.88 187.30,268.92 187.46,268.95 187.61,268.99 187.77,269.02 187.93,269.06 188.09,269.09 188.24,269.13 188.40,269.16 188.56,269.19 188.72,269.22 188.88,269.26 189.03,269.29 189.19,269.32 189.35,269.35 189.51,269.38 189.66,269.41 189.82,269.44 189.98,269.47 190.14,269.50 190.30,269.52 190.45,269.55 190.61,269.58 190.77,269.61 190.93,269.63 191.08,269.66 191.24,269.68 191.40,269.71 191.56,269.73 191.71,269.76 191.87,269.78 192.03,269.81 192.19,269.83 192.35,269.85 192.50,269.88 192.66,269.90 192.82,269.92 192.98,269.95 193.13,269.97 193.29,269.99 193.45,270.01 193.61,270.03 193.77,270.05 193.92,270.07 194.08,270.09 194.24,270.11 194.40,270.13 194.55,270.15 194.71,270.17 194.87,270.19 195.03,270.20 195.19,270.22 195.34,270.24 195.50,270.26 195.66,270.28 195.82,270.29 195.97,270.31 196.13,270.33 196.29,270.34 196.45,270.36 196.61,270.37 196.76,270.39 196.92,270.41 197.08,270.42 197.24,270.44 197.39,270.45 197.55,270.47 197.71,270.48 197.87,270.49 198.02,270.51 198.18,270.52 198.34,270.54 198.50,270.55 198.66,270.56 198.81,270.58 198.97,270.59 199.13,270.60 199.29,270.61 199.44,270.63 199.60,270.64 199.76,270.65 199.92,270.66 200.08,270.67 200.23,270.68 200.39,270.70 200.55,270.71 200.71,270.72 200.86,270.73 201.02,270.74 201.18,270.75 201.34,270.76 201.50,270.77 201.65,270.78 201.81,270.79 201.97,270.80 202.13,270.81 202.28,270.82 202.44,270.83 202.60,270.84 202.76,270.85 202.91,270.86 203.07,270.87 203.23,270.87 203.39,270.88 203.55,270.89 203.70,270.90 203.86,270.91 204.02,270.92 204.18,270.92 204.33,270.93 204.49,270.94 204.65,270.95 204.81,270.96 204.97,270.96 205.12,270.97 205.28,270.98 205.44,270.98 205.60,270.99 205.75,271.00 205.91,271.01 206.07,271.01 206.23,271.02 206.39,271.03 206.54,271.03 206.70,271.04 206.86,271.05 207.02,271.05 207.17,271.06 207.33,271.06 207.49,271.07 207.65,271.08 207.81,271.08 207.96,271.09 208.12,271.09 208.28,271.10 208.44,271.10 208.59,271.11 208.75,271.11 208.91,271.12 209.07,271.13 209.22,271.13 209.38,271.14 209.54,271.14 209.70,271.15 209.86,271.15 210.01,271.15 210.17,271.16 210.33,271.16 210.49,271.17 210.64,271.17 210.80,271.18 210.96,271.18 211.12,271.19 211.28,271.19 211.43,271.19 211.59,271.20 211.75,271.20 211.91,271.21 212.06,271.21 212.22,271.22 212.38,271.22 212.54,271.22 212.70,271.23 212.85,271.23 213.01,271.23 213.17,271.24 213.33,271.24 213.48,271.24 213.64,271.25 213.80,271.25 213.96,271.25 214.12,271.26 214.27,271.26 214.43,271.26 214.59,271.27 214.75,271.27 214.90,271.27 215.06,271.28 215.22,271.28 215.38,271.28 215.53,271.29 215.69,271.29 215.85,271.29 216.01,271.29 216.17,271.30 216.32,271.30 216.48,271.30 216.64,271.31 216.80,271.31 216.95,271.31 217.11,271.31 217.27,271.32 217.43,271.32 217.59,271.32 217.74,271.32 217.90,271.33 218.06,271.33 218.22,271.33 218.37,271.33 218.53,271.33 218.69,271.34 218.85,271.34 219.01,271.34 219.16,271.34 219.32,271.35 219.48,271.35 219.64,271.35 219.79,271.35 219.95,271.35 220.11,271.36 220.27,271.36 220.43,271.36 220.58,271.36 220.74,271.36 220.90,271.37 221.06,271.37 221.21,271.37 221.37,271.37 221.53,271.37 221.69,271.37 221.84,271.38 222.00,271.38 222.16,271.38 222.32,271.38 222.48,271.38 222.63,271.38 222.79,271.39 222.95,271.39 223.11,271.39 223.26,271.39 223.42,271.39 223.58,271.39 223.74,271.39 223.90,271.40 224.05,271.40 224.21,271.40 224.37,271.40 224.53,271.40 224.68,271.40 224.84,271.40 225.00,271.40" fill="none" stroke="#6cd86c" stroke-width="1.3" stroke-linejoin="round"/><polyline points="98.80,268.64 98.96,268.67 99.12,268.70 99.27,268.72 99.43,268.75 99.59,268.78 99.75,268.80 99.90,268.83 100.06,268.86 100.22,268.88 100.38,268.91 100.54,268.93 100.69,268.96 100.85,268.99 101.01,269.01 101.17,269.04 101.32,269.06 101.48,269.09 101.64,269.11 101.80,269.14 101.95,269.16 102.11,269.19 102.27,269.21 102.43,269.24 102.59,269.26 102.74,269.29 102.90,269.31 103.06,269.34 103.22,269.36 103.37,269.38 103.53,269.41 103.69,269.43 103.85,269.46 104.01,269.48 104.16,269.50 104.32,269.53 104.48,269.55 104.64,269.58 104.79,269.60 104.95,269.62 105.11,269.65 105.27,269.67 105.43,269.69 105.58,269.71 105.74,269.74 105.90,269.76 106.06,269.78 106.21,269.81 106.37,269.83 106.53,269.85 106.69,269.87 106.85,269.89 107.00,269.92 107.16,269.94 107.32,269.96 107.48,269.98 107.63,270.00 107.79,270.03 107.95,270.05 108.11,270.07 108.27,270.09 108.42,270.11 108.58,270.13 108.74,270.15 108.90,270.17 109.05,270.19 109.21,270.21 109.37,270.23 109.53,270.25 109.68,270.28 109.84,270.30 110.00,270.32 110.16,270.34 110.32,270.36 110.47,270.37 110.63,270.39 110.79,270.41 110.95,270.43 111.10,270.45 111.26,270.47 111.42,270.49 111.58,270.51 111.74,270.53 111.89,270.55 112.05,270.57 112.21,270.58 112.37,270.60 112.52,270.62 112.68,270.64 112.84,270.66 113.00,270.67 113.16,270.69 113.31,270.71 113.47,270.73 113.63,270.74 113.79,270.76 113.94,270.78 114.10,270.79 114.26,270.81 114.42,270.83 114.58,270.84 114.73,270.86 114.89,270.88 115.05,270.89 115.21,270.91 115.36,270.92 115.52,270.94 115.68,270.96 115.84,270.97 115.99,270.99 116.15,271.00 116.31,271.02 116.47,271.03 116.63,271.05 116.78,271.06 116.94,271.07 117.10,271.09 117.26,271.10 117.41,271.12 117.57,271.13 117.73,271.14 117.89,271.16 118.05,271.17 118.20,271.18 118.36,271.19 118.52,271.21 118.68,271.22 118.83,271.23 118.99,271.24 119.15,271.25 119.31,271.27 119.47,271.28 119.62,271.29 119.78,271.30 119.94,271.31 120.10,271.32 120.25,271.33 120.41,271.34 120.57,271.35 120.73,271.36 120.88,271.37 121.04,271.37 121.20,271.38 121.36,271.39 121.52,271.39 121.67,271.40 121.83,271.41 121.99,271.41 122.15,271.42 122.30,271.42 122.46,271.42 122.62,271.42 122.78,271.42 122.94,271.42 123.09,271.42 123.25,271.42 123.41,271.41 123.57,271.41 123.72,271.40 123.88,271.39 124.04,271.38 124.20,271.36 124.36,271.34 124.51,271.32 124.67,271.30 124.83,271.27 124.99,271.24 125.14,271.21 125.30,271.18 125.46,271.14 125.62,271.10 125.78,271.05 125.93,271.00 126.09,270.94 126.25,270.88 126.41,270.81 126.56,270.73 126.72,270.65 126.88,270.56 127.04,270.46 127.19,270.35 127.35,270.23 127.51,270.10 127.67,269.95 127.83,269.80 127.98,269.63 128.14,269.45 128.30,269.25 128.46,269.04 128.61,268.81 128.77,268.56 128.93,268.29 129.09,268.00 129.25,267.69 129.40,267.36 129.56,267.00 129.72,266.61 129.88,266.20 130.03,265.77 130.19,265.30 130.35,264.80 130.51,264.27 130.67,263.71 130.82,263.11 130.98,262.48 131.14,261.81 131.30,261.10 131.45,260.35 131.61,259.56 131.77,258.73 131.93,257.86 132.09,256.94 132.24,255.97 132.40,254.96 132.56,253.91 132.72,252.80 132.87,251.65 133.03,250.44 133.19,249.19 133.35,247.89 133.50,246.53 133.66,245.13 133.82,243.68 133.98,242.17 134.14,240.62 134.29,239.02 134.45,237.37 134.61,235.67 134.77,233.93 134.92,232.13 135.08,230.30 135.24,228.42 135.40,226.50 135.56,224.54 135.71,222.55 135.87,220.52 136.03,218.45 136.19,216.36 136.34,214.23 136.50,212.09 136.66,209.91 136.82,207.73 136.98,205.52 137.13,203.30 137.29,201.07 137.45,198.84 137.61,196.60 137.76,194.37 137.92,192.14 138.08,189.91 138.24,187.70 138.40,185.51 138.55,183.34 138.71,181.19 138.87,179.07 139.03,176.97 139.18,174.92 139.34,172.90 139.50,170.92 139.66,168.99 139.81,167.11 139.97,165.28 140.13,163.50 140.29,161.79 140.45,160.13 140.60,158.53 140.76,157.00 140.92,155.54 141.08,154.15 141.23,152.83 141.39,151.58 141.55,150.41 141.71,149.31 141.87,148.29 142.02,147.34 142.18,146.47 142.34,145.68 142.50,144.96 142.65,144.32 142.81,143.76 142.97,143.27 143.13,142.85 143.29,142.50 143.44,142.22 143.60,142.01 143.76,141.85 143.92,141.76 144.07,141.71 144.23,141.70 144.39,141.73 144.55,141.81 144.71,141.93 144.86,142.10 145.02,142.31 145.18,142.55 145.34,142.82 145.49,143.13 145.65,143.46 145.81,143.82 145.97,144.20 146.12,144.61 146.28,145.05 146.44,145.50 146.60,145.97 146.76,146.46 146.91,146.97 147.07,147.50 147.23,148.04 147.39,148.60 147.54,149.18 147.70,149.76 147.86,150.36 148.02,150.97 148.18,151.59 148.33,152.23 148.49,152.87 148.65,153.53 148.81,154.19 148.96,154.86 149.12,155.54 149.28,156.23 149.44,156.92 149.60,157.62 149.75,158.33 149.91,159.04 150.07,159.76 150.23,160.49 150.38,161.22 150.54,161.95 150.70,162.69 150.86,163.43 151.02,164.17 151.17,164.92 151.33,165.67 151.49,166.42 151.65,167.17 151.80,167.93 151.96,168.69 152.12,169.45 152.28,170.21 152.44,170.97 152.59,171.73 152.75,172.49 152.91,173.26 153.07,174.02 153.22,174.78 153.38,175.55 153.54,176.31 153.70,177.07 153.85,177.83 154.01,178.59 154.17,179.35 154.33,180.11 154.49,180.86 154.64,181.62 154.80,182.37 154.96,183.12 155.12,183.87 155.27,184.61 155.43,185.36 155.59,186.10 155.75,186.84 155.91,187.58 156.06,188.31 156.22,189.04 156.38,189.77 156.54,190.50 156.69,191.22 156.85,191.94 157.01,192.66 157.17,193.37 157.33,194.08 157.48,194.79 157.64,195.49 157.80,196.19 157.96,196.89 158.11,197.58 158.27,198.27 158.43,198.95 158.59,199.63 158.75,200.31 158.90,200.99 159.06,201.66 159.22,202.32 159.38,202.98 159.53,203.64 159.69,204.29 159.85,204.94 160.01,205.59 160.16,206.23 160.32,206.87 160.48,207.50 160.64,208.13 160.80,208.75 160.95,209.37 161.11,209.99 161.27,210.60 161.43,211.21 161.58,211.81 161.74,212.41 161.90,213.00 162.06,213.59 162.22,214.18 162.37,214.76 162.53,215.34 162.69,215.91 162.85,216.48 163.00,217.04 163.16,217.60 163.32,218.16 163.48,218.71 163.64,219.25 163.79,219.80 163.95,220.33 164.11,220.87 164.27,221.40 164.42,221.92 164.58,222.44 164.74,222.96 164.90,223.47 165.06,223.98 165.21,224.48 165.37,224.98 165.53,225.47 165.69,225.96 165.84,226.45 166.00,226.93 166.16,227.41 166.32,227.88 166.47,228.35 166.63,228.81 166.79,229.28 166.95,229.73 167.11,230.18 167.26,230.63 167.42,231.08 167.58,231.52 167.74,231.95 167.89,232.39 168.05,232.82 168.21,233.24 168.37,233.66 168.53,234.08 168.68,234.49 168.84,234.90 169.00,235.30 169.16,235.70 169.31,236.10 169.47,236.50 169.63,236.89 169.79,237.27 169.95,237.65 170.10,238.03 170.26,238.41 170.42,238.78 170.58,239.15 170.73,239.51 170.89,239.87 171.05,240.23 171.21,240.58 171.37,240.93 171.52,241.28 171.68,241.62 171.84,241.96 172.00,242.30 172.15,242.63 172.31,242.96 172.47,243.28 172.63,243.61 172.78,243.92 172.94,244.24 173.10,244.55 173.26,244.86 173.42,245.17 173.57,245.47 173.73,245.77 173.89,246.07 174.05,246.36 174.20,246.66 174.36,246.94 174.52,247.23 174.68,247.51 174.84,247.79 174.99,248.06 175.15,248.34 175.31,248.61 175.47,248.88 175.62,249.14 175.78,249.40 175.94,249.66 176.10,249.92 176.26,250.17 176.41,250.42 176.57,250.67 176.73,250.91 176.89,251.16 177.04,251.40 177.20,251.63 177.36,251.87 177.52,252.10 177.68,252.33 177.83,252.56 177.99,252.78 178.15,253.00 178.31,253.22 178.46,253.44 178.62,253.66 178.78,253.87 178.94,254.08 179.09,254.29 179.25,254.49 179.41,254.70 179.57,254.90 179.73,255.10 179.88,255.29 180.04,255.49 180.20,255.68 180.36,255.87 180.51,256.06 180.67,256.24 180.83,256.43 180.99,256.61 181.15,256.79 181.30,256.97 181.46,257.14 181.62,257.32 181.78,257.49 181.93,257.66 182.09,257.83 182.25,257.99 182.41,258.16 182.57,258.32 182.72,258.48 182.88,258.64 183.04,258.79 183.20,258.95 183.35,259.10 183.51,259.25 183.67,259.40 183.83,259.55 183.99,259.70 184.14,259.84 184.30,259.98 184.46,260.12 184.62,260.26 184.77,260.40 184.93,260.54 185.09,260.67 185.25,260.81 185.40,260.94 185.56,261.07 185.72,261.20 185.88,261.32 186.04,261.45 186.19,261.57 186.35,261.69 186.51,261.82 186.67,261.94 186.82,262.05 186.98,262.17 187.14,262.29 187.30,262.40 187.46,262.51 187.61,262.62 187.77,262.73 187.93,262.84 188.09,262.95 188.24,263.06 188.40,263.16 188.56,263.27 188.72,263.37 188.88,263.47 189.03,263.57 189.19,263.67 189.35,263.77 189.51,263.86 189.66,263.96 189.82,264.05 189.98,264.15 190.14,264.24 190.30,264.33 190.45,264.42 190.61,264.51 190.77,264.59 190.93,264.68 191.08,264.77 191.24,264.85 191.40,264.93 191.56,265.02 191.71,265.10 191.87,265.18 192.03,265.26 192.19,265.34 192.35,265.41 192.50,265.49 192.66,265.57 192.82,265.64 192.98,265.72 193.13,265.79 193.29,265.86 193.45,265.93 193.61,266.00 193.77,266.07 193.92,266.14 194.08,266.21 194.24,266.27 194.40,266.34 194.55,266.41 194.71,266.47 194.87,266.53 195.03,266.60 195.19,266.66 195.34,266.72 195.50,266.78 195.66,266.84 195.82,266.90 195.97,266.96 196.13,267.02 196.29,267.07 196.45,267.13 196.61,267.19 196.76,267.24 196.92,267.29 197.08,267.35 197.24,267.40 197.39,267.45 197.55,267.51 197.71,267.56 197.87,267.61 198.02,267.66 198.18,267.71 198.34,267.75 198.50,267.80 198.66,267.85 198.81,267.90 198.97,267.94 199.13,267.99 199.29,268.03 199.44,268.08 199.60,268.12 199.76,268.16 199.92,268.21 200.08,268.25 200.23,268.29 200.39,268.33 200.55,268.37 200.71,268.41 200.86,268.45 201.02,268.49 201.18,268.53 201.34,268.57 201.50,268.61 201.65,268.64 201.81,268.68 201.97,268.72 202.13,268.75 202.28,268.79 202.44,268.82 202.60,268.86 202.76,268.89 202.91,268.92 203.07,268.96 203.23,268.99 203.39,269.02 203.55,269.05 203.70,269.09 203.86,269.12 204.02,269.15 204.18,269.18 204.33,269.21 204.49,269.24 204.65,269.27 204.81,269.30 204.97,269.32 205.12,269.35 205.28,269.38 205.44,269.41 205.60,269.44 205.75,269.46 205.91,269.49 206.07,269.51 206.23,269.54 206.39,269.57 206.54,269.59 206.70,269.62 206.86,269.64 207.02,269.66 207.17,269.69 207.33,269.71 207.49,269.73 207.65,269.76 207.81,269.78 207.96,269.80 208.12,269.82 208.28,269.85 208.44,269.87 208.59,269.89 208.75,269.91 208.91,269.93 209.07,269.95 209.22,269.97 209.38,269.99 209.54,270.01 209.70,270.03 209.86,270.05 210.01,270.07 210.17,270.09 210.33,270.10 210.49,270.12 210.64,270.14 210.80,270.16 210.96,270.18 211.12,270.19 211.28,270.21 211.43,270.23 211.59,270.24 211.75,270.26 211.91,270.28 212.06,270.29 212.22,270.31 212.38,270.32 212.54,270.34 212.70,270.35 212.85,270.37 213.01,270.38 213.17,270.40 213.33,270.41 213.48,270.43 213.64,270.44 213.80,270.46 213.96,270.47 214.12,270.48 214.27,270.50 214.43,270.51 214.59,270.52 214.75,270.53 214.90,270.55 215.06,270.56 215.22,270.57 215.38,270.58 215.53,270.60 215.69,270.61 215.85,270.62 216.01,270.63 216.17,270.64 216.32,270.65 216.48,270.66 216.64,270.68 216.80,270.69 216.95,270.70 217.11,270.71 217.27,270.72 217.43,270.73 217.59,270.74 217.74,270.75 217.90,270.76 218.06,270.77 218.22,270.78 218.37,270.79 218.53,270.80 218.69,270.81 218.85,270.82 219.01,270.82 219.16,270.83 219.32,270.84 219.48,270.85 219.64,270.86 219.79,270.87 219.95,270.88 220.11,270.88 220.27,270.89 220.43,270.90 220.58,270.91 220.74,270.92 220.90,270.92 221.06,270.93 221.21,270.94 221.37,270.95 221.53,270.95 221.69,270.96 221.84,270.97 222.00,270.97 222.16,270.98 222.32,270.99 222.48,270.99 222.63,271.00 222.79,271.01 222.95,271.01 223.11,271.02 223.26,271.03 223.42,271.03 223.58,271.04 223.74,271.05 223.90,271.05 224.05,271.06 224.21,271.06 224.37,271.07 224.53,271.07 224.68,271.08 224.84,271.09 225.00,271.09" fill="none" stroke="#5252bc" stroke-width="1.3" stroke-linejoin="round"/></g><path d="M167.0,151.2H186.4" stroke="#c46666" stroke-width="1.4"/><text x="188.6" y="154.5" class="ig">4CzPN</text><path d="M167.0,161.1H186.4" stroke="#6cd86c" stroke-width="1.4"/><text x="188.6" y="164.4" class="ig">4CzIPN</text><path d="M167.0,171.0H186.4" stroke="#5252bc" stroke-width="1.4"/><text x="188.6" y="174.3" class="ig">4CzTPN</text>
</svg>
</body></html>
